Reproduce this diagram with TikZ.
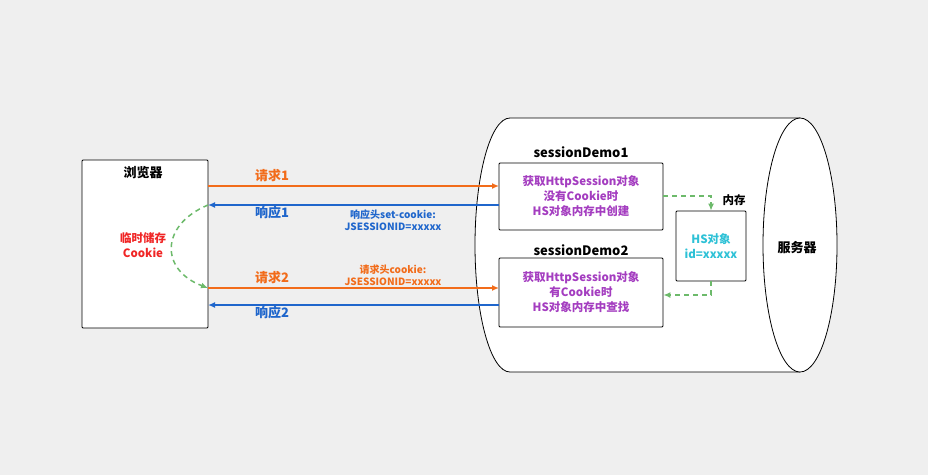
\documentclass[tikz,border=0pt]{standalone}
\usepackage{fontspec}
\setmainfont{Noto Sans CJK SC}
\usetikzlibrary{arrows.meta}
\definecolor{bg}{HTML}{EFEFEF}
\definecolor{org}{HTML}{F26C1A}
\definecolor{blu}{HTML}{1F66CC}
\definecolor{pur}{HTML}{A43DC0}
\definecolor{grn}{HTML}{6DBA6B}
\definecolor{cya}{HTML}{2DC1D6}
\definecolor{rd}{HTML}{F02525}
\begin{document}
\begin{tikzpicture}[x=1pt,y=-1pt,
  box/.style={draw=black,thick,fill=white,rounded corners=1pt},
  lab/.style={font=\bfseries\fontsize{13}{15}\selectfont},
  sm/.style={font=\bfseries\fontsize{10}{12}\selectfont,align=center},
  mid/.style={font=\bfseries\fontsize{11.5}{15}\selectfont,align=center},
  req/.style={org,line width=1.5pt,-{Latex[length=7pt,width=6pt]}},
  res/.style={blu,line width=1.5pt,-{Latex[length=7pt,width=6pt]}},
  gd/.style={grn,line width=1.5pt,dash pattern=on 5pt off 4pt,-{Latex[length=7pt,width=6pt]}}]
\fill[bg] (0,0) rectangle (928,475);
\useasboundingbox (0,0) rectangle (928,475);
% cylinder
\draw[thick,fill=white] (800,118) -- (510,118) arc[start angle=270,end angle=90,x radius=35,y radius=127] -- (800,372);
\draw[thick,fill=white] (800,245) ellipse[x radius=37,y radius=127];
\node[lab] (srv) at (797,248) {服务器};
% browser
\node[box,minimum width=126pt,minimum height=168pt] (br) at (145,244) {};
\node[lab] (brl) at (143,173) {浏览器};
\node[mid,text=rd] (tmp) at (143,245) {临时储存\\Cookie};
% session boxes
\node[box,minimum width=164pt,minimum height=67pt,mid,text=pur] (s1) at (581,196.5) {获取HttpSession对象\\没有Cookie时\\HS对象内存中创建};
\node[box,minimum width=164pt,minimum height=69pt,mid,text=pur] (s2) at (581,292.5) {获取HttpSession对象\\有Cookie时\\HS对象内存中查找};
\node[lab] (s1l) at (581,152) {sessionDemo1};
\node[lab] (s2l) at (581,250) {sessionDemo2};
\node[box,minimum width=70pt,minimum height=70pt,mid,text=cya] (hs) at (711,246) {HS对象\\id=xxxxx};
\node[font=\bfseries\fontsize{11.5}{14}\selectfont] (mem) at (734,200) {内存};
% arrows
\coordinate (a1) at (208,186); \coordinate (b1) at (499,186);
\draw[req] (a1) -- (b1);
\node[lab,text=org] at (272,176) {请求1};
\coordinate (a2) at (499,205); \coordinate (b2) at (208,205);
\draw[res] (a2) -- (b2);
\node[lab,text=blu] at (272,213) {响应1};
\node[sm,text=blu] at (393,220) {响应头set-cookie:\\JSESSIONID=xxxxx};
\coordinate (a3) at (208,288); \coordinate (b3) at (499,288);
\draw[req] (a3) -- (b3);
\node[lab,text=org] at (272,278) {请求2};
\node[sm,text=org] at (393,275) {请求头cookie:\\JSESSIONID=xxxxx};
\coordinate (a4) at (499,305); \coordinate (b4) at (208,305);
\draw[res] (a4) -- (b4);
\node[lab,text=blu] at (272,313) {响应2};
% green dashed
\draw[gd] (208,205) .. controls (160,225) and (160,270) .. (208,288);
\draw[gd] (s1.east|-0,196) -- (711,196) -- (hs.north);
\draw[gd] (hs.south) -- (711,295) -- (s2.east|-0,295);
\end{tikzpicture}
\end{document}
